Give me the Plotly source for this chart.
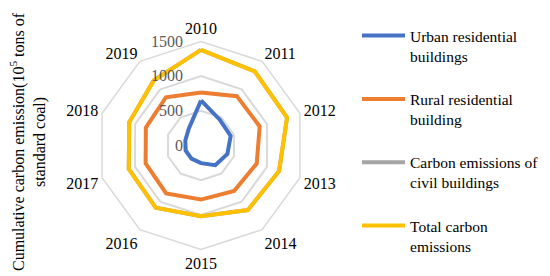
import plotly.graph_objects as go

years = ["2010", "2011", "2012", "2013", "2014", "2015", "2016", "2017", "2018", "2019"]
urban = [650, 460, 450, 400, 350, 255, 235, 233, 238, 300]
rural = [765, 880, 890, 845, 812, 780, 855, 840, 836, 860]
civil = [1380, 1320, 1305, 1185, 1150, 1020, 1110, 1096, 1088, 1160]
total = [1380, 1320, 1305, 1185, 1150, 1020, 1110, 1096, 1088, 1160]
radial_ticks = [0, 500, 1000, 1500]

series = [
    ("Urban residential<br>buildings", urban, "#4472C4"),
    ("Rural residential<br>building", rural, "#ED7D31"),
    ("Carbon emissions of<br>civil buildings", civil, "#A5A5A5"),
    ("Total carbon<br>emissions", total, "#FFC000"),
]

FONT = "Liberation Serif, Times New Roman, serif"

fig = go.Figure()
for i, (name, vals, color) in enumerate(series):
    fig.add_trace(go.Scatterpolar(
        r=vals + vals[:1],
        theta=years + years[:1],
        mode="lines",
        name=name,
        legendgroup=f"g{i}",
        line=dict(color=color, width=4),
    ))

W, H = 550, 276
cx, cy, R = 193, 137.5, 104

fig.update_layout(
    width=W, height=H,
    margin=dict(l=0, r=0, t=0, b=0),
    paper_bgcolor="white",
    plot_bgcolor="white",
    font=dict(family=FONT, size=16, color="black"),
    polar=dict(
        domain=dict(x=[(cx - R) / W, (cx + R) / W],
                    y=[(H - cy - R) / H, (H - cy + R) / H]),
        bgcolor="white",
        gridshape="linear",
        radialaxis=dict(
            range=[0, 1500],
            tickvals=radial_ticks,
            ticktext=[str(t) for t in radial_ticks],
            angle=90,
            tickangle=90,
            side="counterclockwise",
            showline=False,
            showgrid=True,
            gridcolor="#D9D9D9",
            gridwidth=1.5,
            ticks="outside",
            ticklen=12,
            tickcolor="rgba(0,0,0,0)",
            tickfont=dict(family=FONT, size=16, color="#595959"),
        ),
        angularaxis=dict(
            rotation=90,
            direction="clockwise",
            showgrid=False,
            showline=True,
            linecolor="#D9D9D9",
            linewidth=1.5,
            ticks="",
            tickfont=dict(family=FONT, size=16, color="black"),
        ),
    ),
    legend=dict(
        x=349 / W, y=1 - 11 / H,
        xanchor="left", yanchor="top",
        bgcolor="rgba(0,0,0,0)",
        font=dict(family=FONT, size=15.5, color="black"),
        valign="top",
        tracegroupgap=20,
        itemwidth=43,
    ),
    annotations=[dict(
        text="Cumulative carbon emission(10<sup>5</sup> tons of<br>standard coal)",
        x=20 / W, y=(H - 134) / H,
        xref="paper", yref="paper",
        xanchor="center", yanchor="middle",
        textangle=-90,
        showarrow=False,
        font=dict(family=FONT, size=16, color="black"),
    )],
)

fig.write_html("out.html")
